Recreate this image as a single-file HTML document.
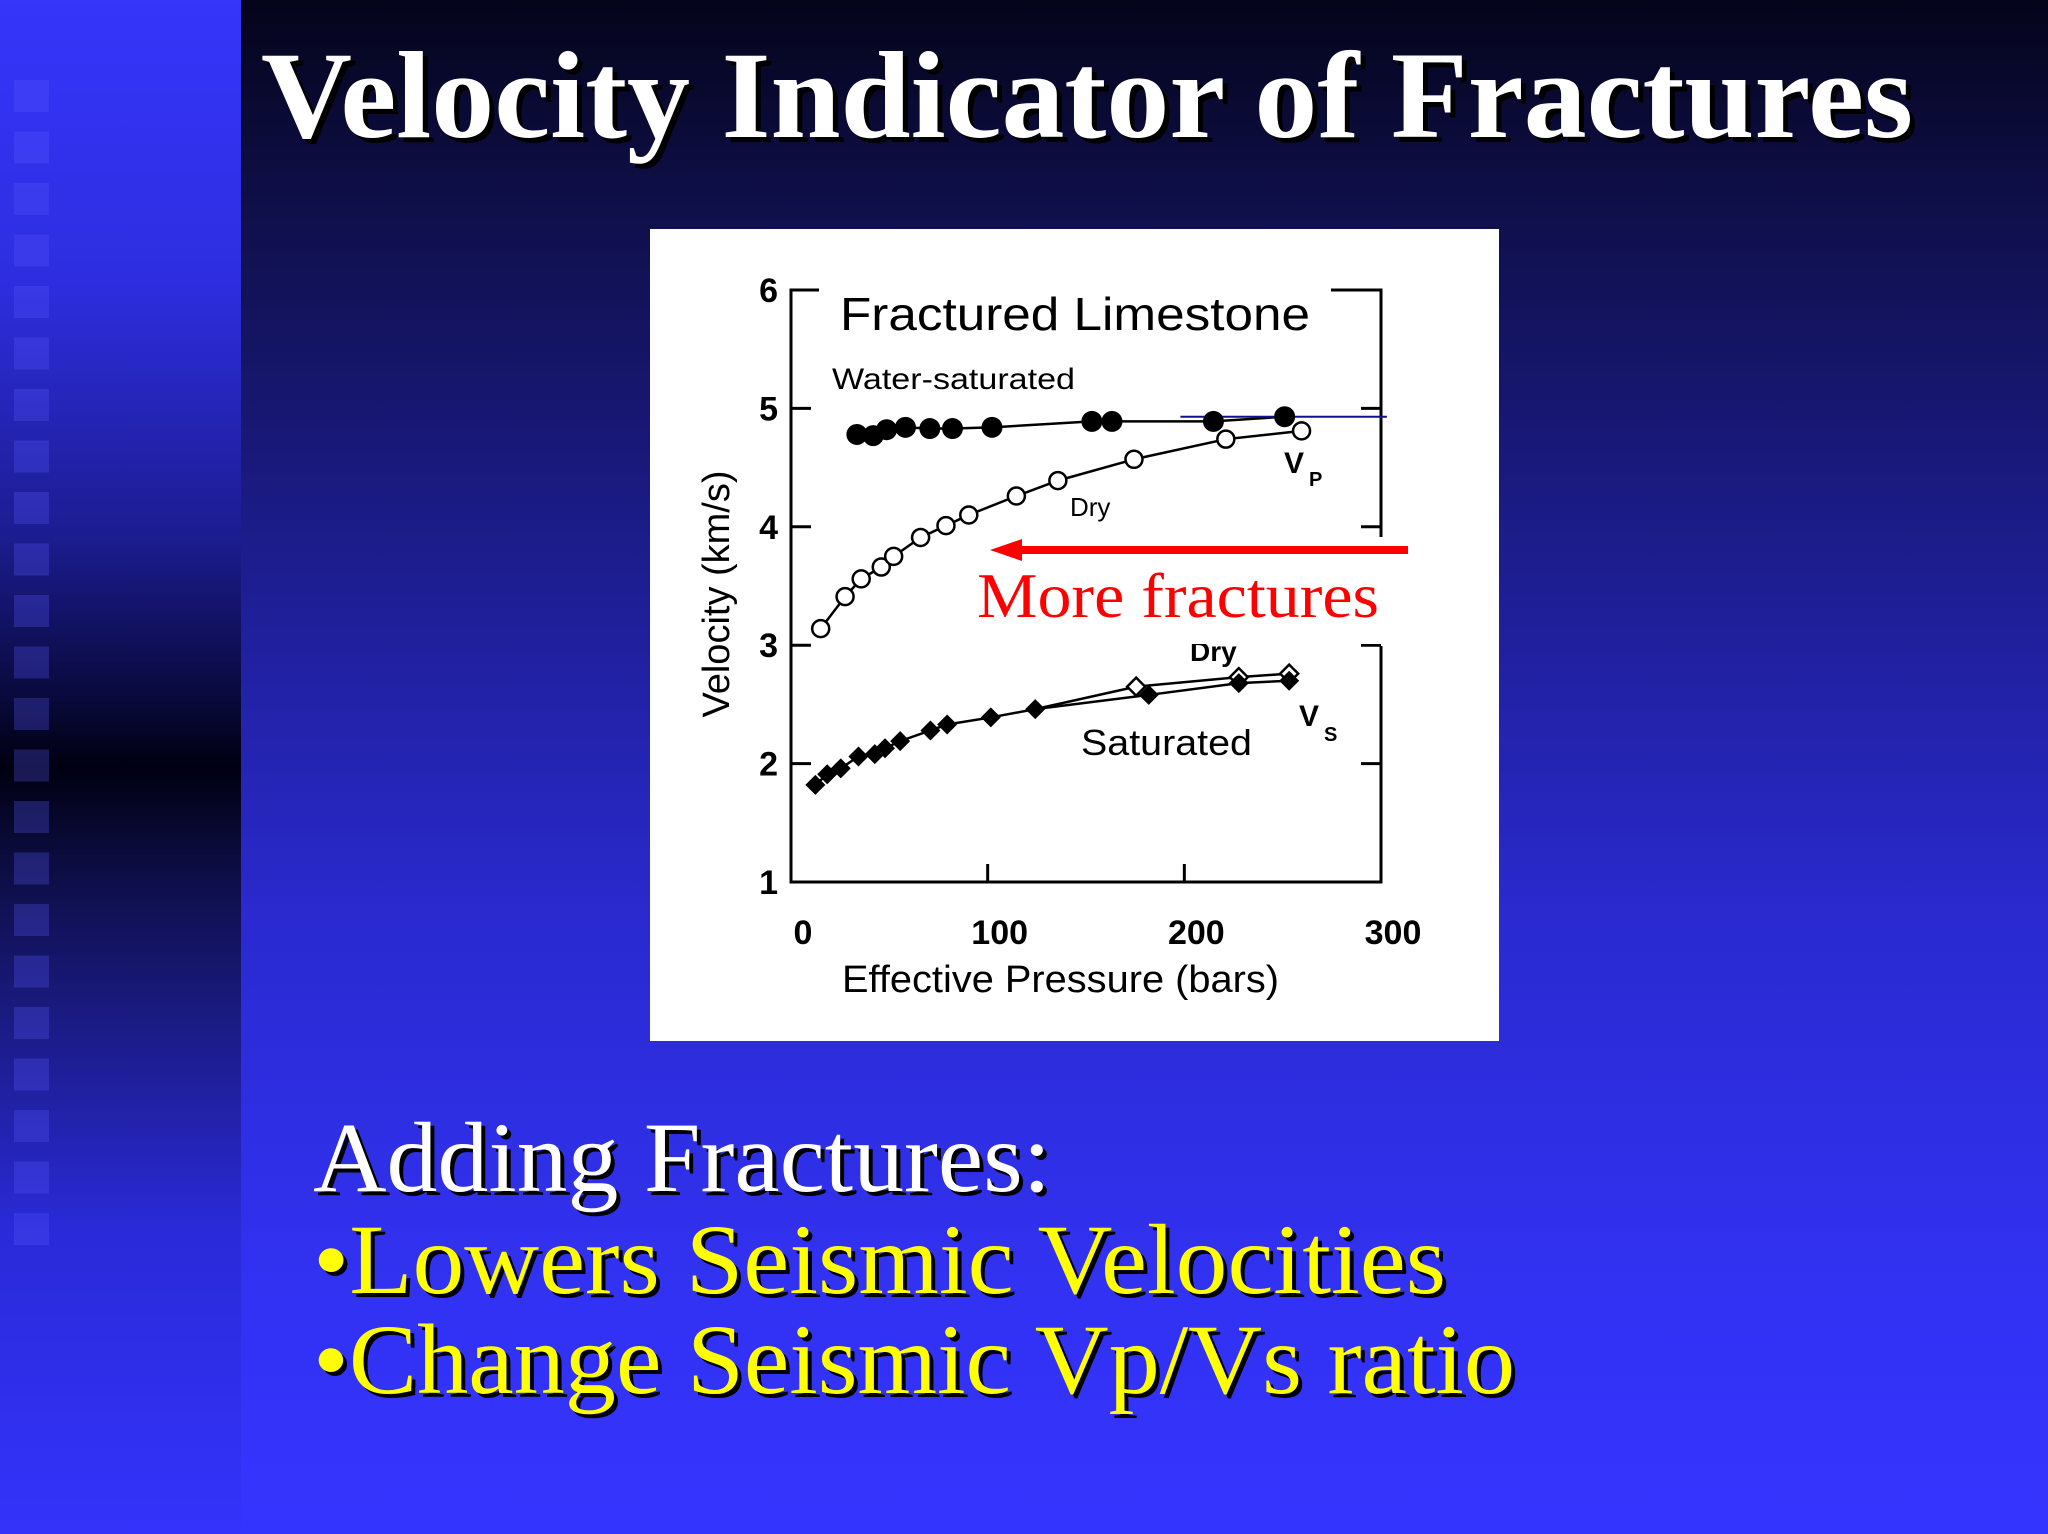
<!DOCTYPE html>
<html><head><meta charset="utf-8"><style>
html,body{margin:0;padding:0;width:2048px;height:1534px;overflow:hidden}
#bg{position:absolute;left:0;top:0;width:2048px;height:1534px;background:linear-gradient(180deg,#04041a 0%,#0e0e45 12%,#1c1c8a 35%,#2a2ad0 60%,#3232f4 85%,#3434ff 100%)}
#strip{position:absolute;left:0;top:0;width:241px;height:1534px;background:linear-gradient(180deg,#3535fb 0%,#2e2ee0 18%,#1c1c90 35%,#0a0a40 45%,#000010 50%,#0c0c40 56%,#1a1a80 66%,#2a2ad8 80%,#3333fb 100%)}
</style></head><body>
<div id="bg"></div>
<div id="strip"></div>
<svg id="svg" width="2048" height="1534" style="position:absolute;left:0;top:0">
<g id="squares"></g>
<text x="261" y="137" font-family="Liberation Serif, serif" font-weight="bold" font-size="124" fill="#000" transform="translate(5,5)" textLength="1652" lengthAdjust="spacingAndGlyphs">Velocity Indicator of Fractures</text>
<text x="261" y="137" font-family="Liberation Serif, serif" font-weight="bold" font-size="124" fill="#fff" textLength="1652" lengthAdjust="spacingAndGlyphs">Velocity Indicator of Fractures</text>
<rect x="650" y="229" width="849" height="812" fill="#fff"/>
<g id="chart"></g>
<g font-family="Liberation Serif, serif" font-size="100">
<text x="317" y="1195" fill="#000" textLength="738" lengthAdjust="spacingAndGlyphs">Adding Fractures:</text>
<text x="313" y="1191" fill="#fff" textLength="738" lengthAdjust="spacingAndGlyphs">Adding Fractures:</text>
<text x="317" y="1297" fill="#000" textLength="1133" lengthAdjust="spacingAndGlyphs">•Lowers Seismic Velocities</text>
<text x="313" y="1293" fill="#ffff00" textLength="1133" lengthAdjust="spacingAndGlyphs">•Lowers Seismic Velocities</text>
<text x="317" y="1397" fill="#000" textLength="1202" lengthAdjust="spacingAndGlyphs">•Change Seismic Vp/Vs ratio</text>
<text x="313" y="1393" fill="#ffff00" textLength="1202" lengthAdjust="spacingAndGlyphs">•Change Seismic Vp/Vs ratio</text>
</g>
</svg>
<script>
const xTicks=[0,100,200,300];
const yTicks=[1,2,3,4,5,6];
const vpSatP=[33.5,41.8,48.6,58.2,70.6,82.1,102.2,153,163.2,214.8,251];
const vpSatV=[4.78,4.77,4.82,4.84,4.83,4.83,4.84,4.89,4.89,4.89,4.93];
const vpDryP=[15.1,27.5,35.7,45.9,52.2,65.9,78.8,90.4,114.6,135.7,174.4,221.1,259.6];
const vpDryV=[3.14,3.41,3.56,3.66,3.75,3.91,4.01,4.10,4.26,4.39,4.57,4.74,4.81];
const vsSatP=[12.4,18.4,25.3,34.3,42.6,47.8,55.5,70.9,79.4,101.6,124.2,181.9,227.7,253.3];
const vsSatV=[1.82,1.91,1.96,2.06,2.08,2.13,2.19,2.28,2.33,2.39,2.46,2.58,2.68,2.70];
const vsDryP=[124.2,175.5,227.7,253.3];
const vsDryV=[2.46,2.65,2.73,2.76];
const refP=[198,303];
const refV=[4.93,4.93];

const NS='http://www.w3.org/2000/svg';
const X0=791,X1=1381,Y0=882,Y1=290;
const xs=p=>X0+(p-0)/300*(X1-X0);
const ys=v=>Y0-(v-1)/5*(Y0-Y1);
const chart=document.getElementById('chart');
function mk(tag,attrs,parent){const e=document.createElementNS(NS,tag);for(const k in attrs)e.setAttribute(k,attrs[k]);(parent||chart).appendChild(e);return e;}

const sq=document.getElementById('squares');
for(let i=0;i<23;i++){
  const r=mk('rect',{x:14,y:80+i*51.5,width:35,height:32,fill:'rgba(90,90,255,0.28)'},sq);
  
  
}

const ax={stroke:'#000','stroke-width':3,fill:'none'};
let e;
e=mk('path',Object.assign({d:`M${X0+28},${Y1} L${X0},${Y1} L${X0},${Y0} L${X1},${Y0} L${X1},646`},ax));


e=mk('path',Object.assign({d:`M${X1-50},${Y1} L${X1},${Y1} L${X1},537`},ax));


yTicks.forEach(t=>{
  if(t>1&&t<6){
    e=mk('line',Object.assign({x1:X0,x2:X0+20,y1:ys(t),y2:ys(t)},ax));
    
    
    e=mk('line',Object.assign({x1:X1-20,x2:X1,y1:ys(t),y2:ys(t)},ax));
    
    
  }
  e=mk('text',{x:778,y:ys(t)+12,'text-anchor':'end','font-family':'Liberation Sans, sans-serif','font-weight':'bold','font-size':34,fill:'#000'});
  e.textContent=t;
  
  
});
xTicks.forEach(t=>{
  if(t>0&&t<300){
    e=mk('line',Object.assign({x1:xs(t),x2:xs(t),y1:Y0,y2:Y0-18},ax));
    
    
  }
  e=mk('text',{x:xs(t)+12,y:944,'text-anchor':'middle','font-family':'Liberation Sans, sans-serif','font-weight':'bold','font-size':34,fill:'#000'});
  e.textContent=t;
  
  
});
function txt(s,x,y,size,name,extra){e=mk('text',Object.assign({x:x,y:y,'font-family':'Liberation Sans, sans-serif','font-size':size,fill:'#000'},extra||{}));e.textContent=s;return e;}
txt('Effective Pressure (bars)',842,992,38,'x-axis-title',{textLength:437,lengthAdjust:'spacingAndGlyphs'});
txt('Velocity (km/s)',0,0,38,'y-axis-title',{transform:'translate(729,594) rotate(-90)','text-anchor':'middle'});
txt('Fractured Limestone',840,330,46,'chart-title',{textLength:470,lengthAdjust:'spacingAndGlyphs'});
txt('Water-saturated',832,389,30,'label-water-saturated',{textLength:243,lengthAdjust:'spacingAndGlyphs'});
txt('Dry',1070,516,26,'label-dry-vp');
txt('V',1284,473,30,'label-vp',{'font-weight':'bold'});
txt('P',1309,486,20,'label-vp-sub',{'font-weight':'bold'});
txt('Saturated',1081,755,36,'label-saturated',{textLength:171,lengthAdjust:'spacingAndGlyphs'});
txt('V',1299,726,30,'label-vs',{'font-weight':'bold'});
txt('S',1324,741,20,'label-vs-sub',{'font-weight':'bold'});

function line(P,V,name,color,w){
  const d=P.map((p,i)=>(i?'L':'M')+xs(p)+','+ys(V[i])).join(' ');
  e=mk('path',{d:d,stroke:color||'#000','stroke-width':w||2.5,fill:'none'});
  
  
}
line(vpSatP,vpSatV,'vp-saturated-line');
line(vpDryP,vpDryV,'vp-dry-line');
line(vsSatP,vsSatV,'vs-saturated-line');
line(vsDryP,vsDryV,'vs-dry-line');
line(refP,refV,'reference-line','#101090',2);
vpSatP.forEach((p,i)=>{e=mk('circle',{cx:xs(p),cy:ys(vpSatV[i]),r:10.5,fill:'#000'});
  
  });
vpDryP.forEach((p,i)=>{e=mk('circle',{cx:xs(p),cy:ys(vpDryV[i]),r:8.5,fill:'#fff',stroke:'#000','stroke-width':2.5});
  
  });
function dia(x,y,s){return `M${x},${y-s} L${x+s},${y} L${x},${y+s} L${x-s},${y} Z`;}
vsDryP.slice(1).forEach((p,i)=>{e=mk('path',{d:dia(xs(p),ys(vsDryV[i+1]),9),fill:'#fff',stroke:'#000','stroke-width':2.5});
  
  });
vsSatP.forEach((p,i)=>{e=mk('path',{d:dia(xs(p),ys(vsSatV[i]),10),fill:'#000'});
  
  });

txt('Dry',1190,661,28,'label-dry-vs',{'font-weight':'bold'});
e=mk('rect',{x:975,y:566,width:425,height:78,fill:'#fff'});


e=mk('line',{x1:1010,x2:1408,y1:550,y2:550,stroke:'#ff0000','stroke-width':8});


e=mk('path',{d:'M990,550 L1022,539 L1022,561 Z',fill:'#ff0000'});


txt('More fractures',977,617,64,'more-fractures-label',{'font-family':'Liberation Serif, serif',fill:'#ff0000',textLength:402,lengthAdjust:'spacingAndGlyphs'});
</script>
</body></html>
